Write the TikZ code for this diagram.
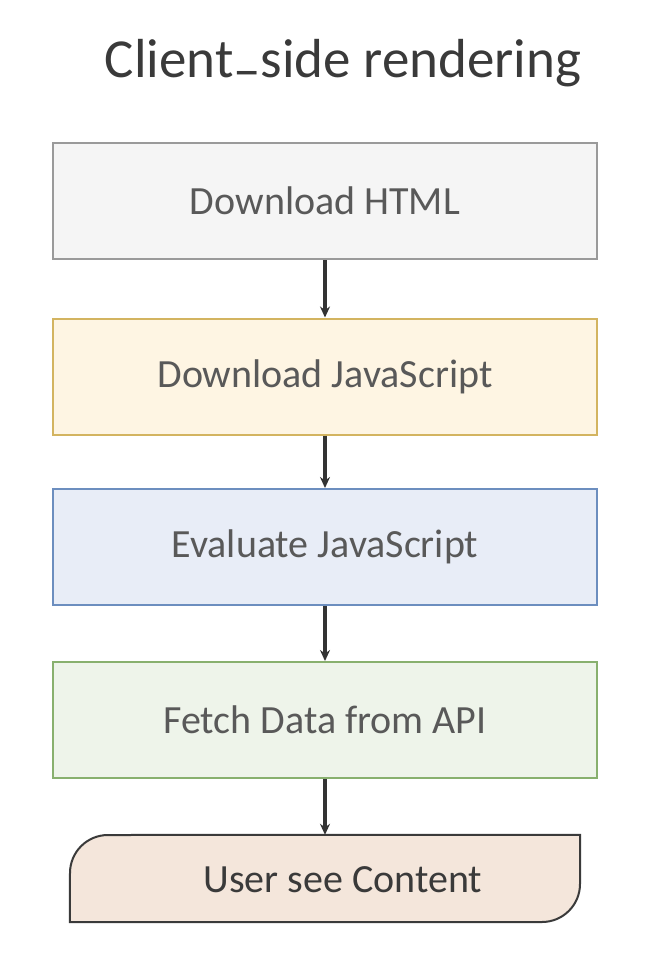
\documentclass[tikz,border=0pt]{standalone}
\usepackage{fontspec}
\setmainfont{Carlito}
\usetikzlibrary{arrows.meta}
\definecolor{txtgray}{HTML}{595959}
\definecolor{txtdark}{HTML}{3A3A3A}
\definecolor{f1}{HTML}{F5F5F5}\definecolor{d1}{HTML}{9A9A9A}
\definecolor{f2}{HTML}{FEF5E3}\definecolor{d2}{HTML}{D3B460}
\definecolor{f3}{HTML}{E8EDF7}\definecolor{d3}{HTML}{6C8EBF}
\definecolor{f4}{HTML}{EEF4EA}\definecolor{d4}{HTML}{88B06E}
\definecolor{f5}{HTML}{F4E6DB}\definecolor{d5}{HTML}{3A3A3A}
\definecolor{arr}{HTML}{333333}
\begin{document}
\begin{tikzpicture}[x=1pt,y=-1pt,
  stepbox/.style={draw, line width=2pt, minimum width=544pt, minimum height=116pt,
    inner sep=0pt, font=\fontsize{40}{46}\selectfont, text=txtgray},
  flow/.style={draw=arr, line width=3.2pt, -{Stealth[length=11pt,width=10pt]}}]
\useasboundingbox (0,0) rectangle (656,968);
\node[font=\fontsize{55}{62}\selectfont, text=txtdark, anchor=base] (title) at (343,78)
  {Client\raisebox{-0.2em}{–}side rendering};
\node[stepbox, fill=f1, draw=d1] (html) at (325,201) {\raisebox{-2pt}{Download HTML}};
\node[stepbox, fill=f2, draw=d2] (js) at (325,376.5) {\raisebox{-3pt}{Download JavaScript}};
\node[stepbox, fill=f3, draw=d3] (eval) at (325,547) {\raisebox{-2pt}{Evaluate JavaScript}};
\node[stepbox, fill=f4, draw=d4] (api) at (325,720) {\raisebox{-2pt}{Fetch Data from API}};
\node[minimum width=510pt, minimum height=87pt, inner sep=0pt] (usr) at (325,878.5) {};
\filldraw[fill=f5, draw=d5, line width=2pt]
  (usr.south west) -- (70,873) .. controls (70,852) and (87,835) .. (108,835)
  -- (usr.north east) -- (580,884) .. controls (580,905) and (563,922) .. (542,922)
  -- cycle;
\node[font=\fontsize{40}{46}\selectfont, text=txtdark] (usrtxt) at (343,880) {User see Content};
\draw[flow] (html) -- (js);
\draw[flow] (js) -- (eval);
\draw[flow] (eval) -- (api);
\draw[flow] (api) -- (usr);
\end{tikzpicture}
\end{document}
